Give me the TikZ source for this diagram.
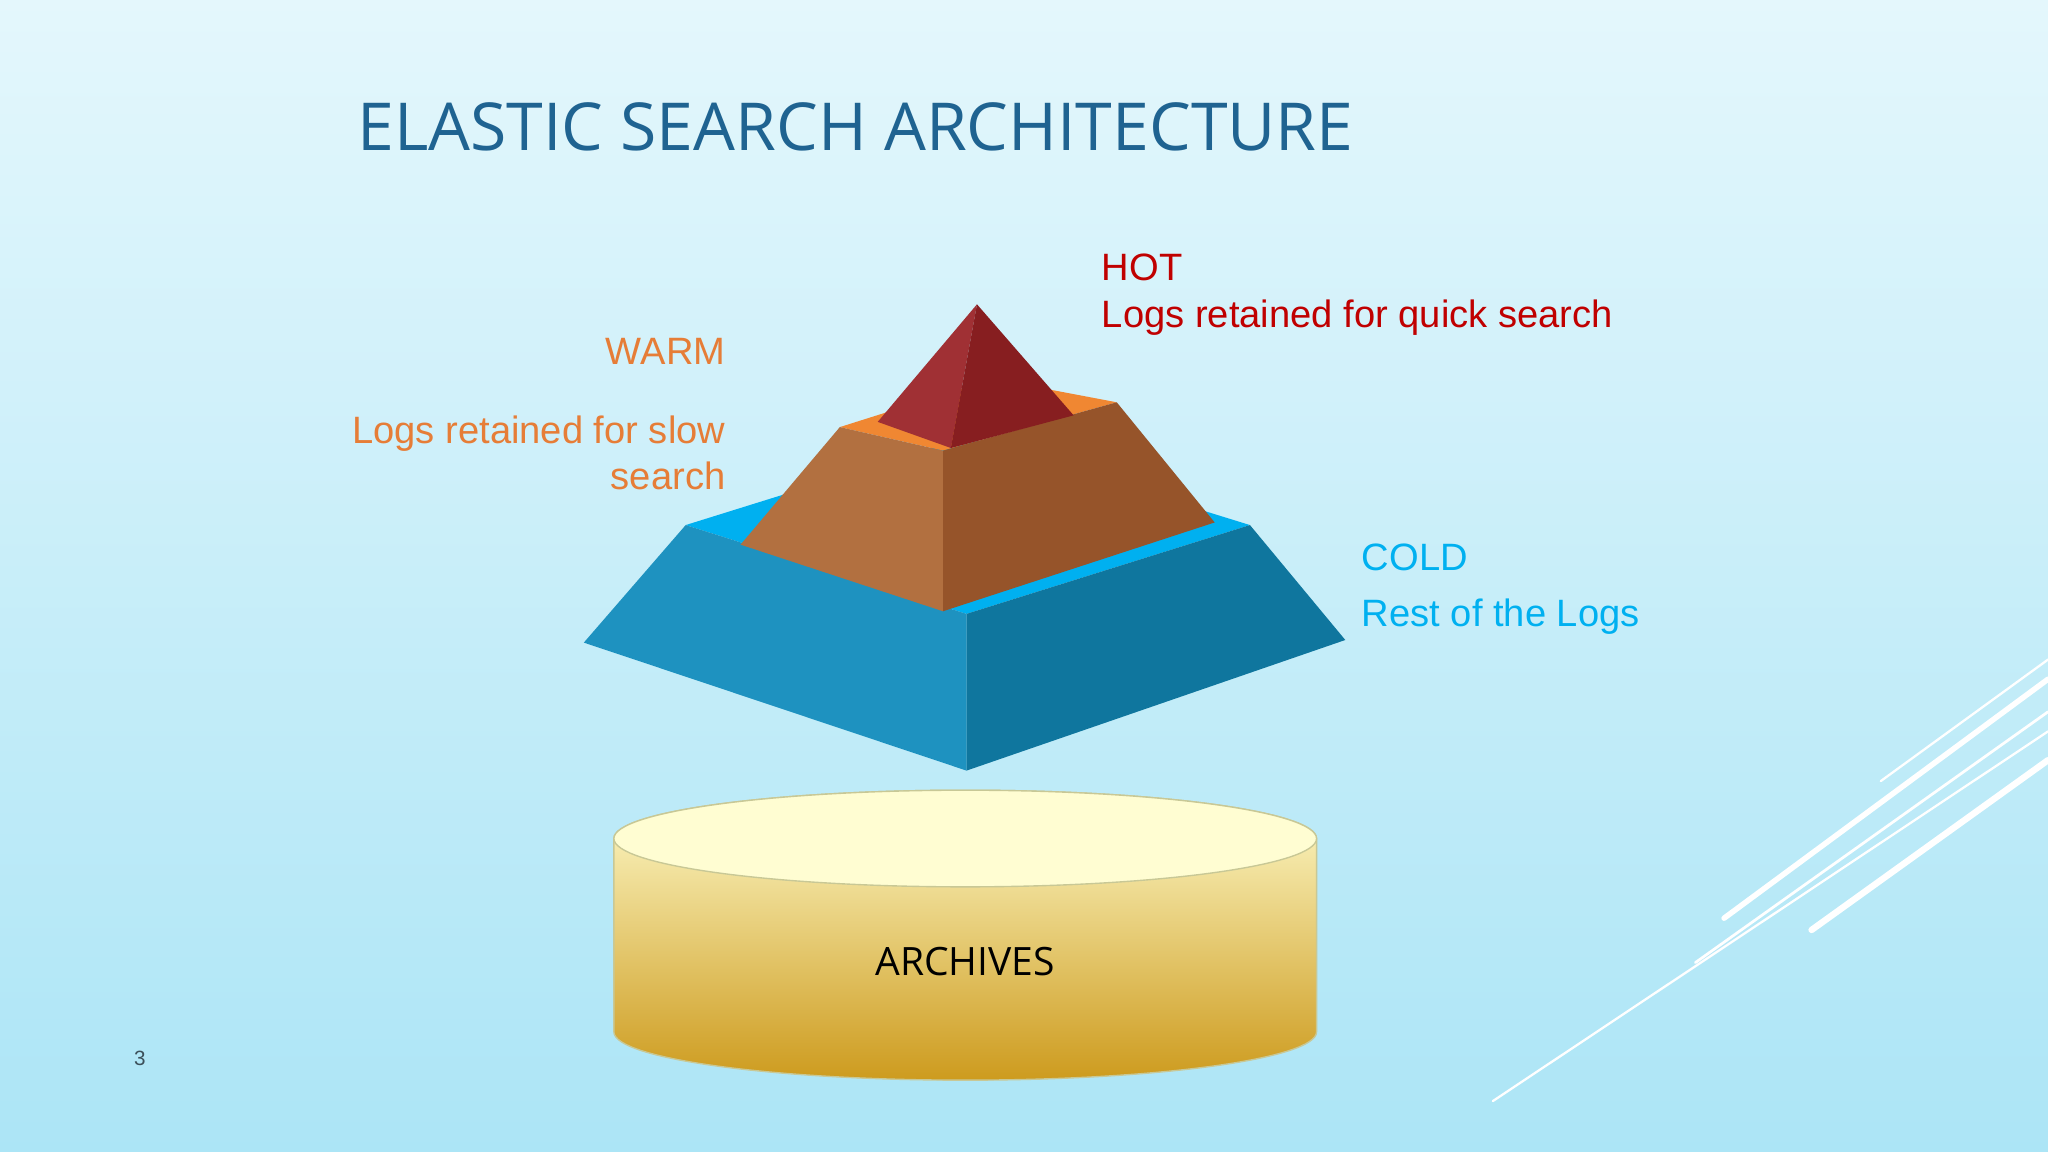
\documentclass[tikz,border=0pt]{standalone}
\usepackage{fontspec}
\setmainfont{Liberation Sans}
\newfontfamily\titlefont{Open Sans}
\definecolor{bgtop}{RGB}{228,247,252}
\definecolor{bgbot}{RGB}{172,229,246}
\definecolor{titlec}{RGB}{31,99,145}
\definecolor{cyltop}{RGB}{255,252,205}
\definecolor{cylmid}{RGB}{238,222,150}
\definecolor{cylbot}{RGB}{205,155,30}
\definecolor{cyledge}{RGB}{200,200,150}
\definecolor{cylcap}{RGB}{255,253,210}
\definecolor{coldtop}{RGB}{0,176,240}
\definecolor{coldl}{RGB}{30,146,192}
\definecolor{coldr}{RGB}{15,118,158}
\definecolor{warmtop}{RGB}{240,135,50}
\definecolor{warml}{RGB}{178,112,64}
\definecolor{warmr}{RGB}{150,84,42}
\definecolor{hotl}{RGB}{160,48,52}
\definecolor{hotr}{RGB}{135,30,32}
\definecolor{hotc}{RGB}{192,0,0}
\definecolor{warmc}{RGB}{230,125,55}
\definecolor{pgc}{RGB}{60,80,90}
\begin{document}
\begin{tikzpicture}[x=0.01cm,y=-0.01cm,
  lbl/.style={font=\fontsize{8.3}{10.2}\selectfont,inner sep=0pt},
  deco/.style={white,line cap=round}]
\shade[top color=bgtop,bottom color=bgbot] (0,0) rectangle (1568,882);
\useasboundingbox (0,0) rectangle (1568,882);
% deco lines
\draw[deco,line width=1.2pt] (1320,703) -- (1568,520);
\draw[deco,line width=0.6pt] (1298,737) -- (1568,545);
\draw[deco,line width=1.4pt] (1387,712) -- (1568,582);
\draw[deco,line width=0.5pt] (1440,598) -- (1568,505);
\draw[deco,line width=0.5pt] (1143,843) -- (1568,560);
% title
\node[anchor=west,inner sep=0pt,text=titlec,font=\titlefont\fontsize{14.4}{16}\selectfont] (title) at (273,97) {ELASTIC SEARCH ARCHITECTURE};
% cylinder
\shade[top color=cyltop,middle color=cylmid,bottom color=cylbot,draw=cyledge,line width=0.3pt]
 (470,642) -- (470,790) arc[start angle=180,end angle=0,x radius=269,y radius=37] -- (1008,642) arc[start angle=0,end angle=-180,x radius=269,y radius=37] -- cycle;
\fill[fill=cylcap,draw=cyledge,line width=0.3pt] (739,642) ellipse[x radius=269,y radius=37];
\node[lbl,font=\titlefont\fontsize{8.5}{10}\selectfont] (arch) at (739,736) {ARCHIVES};
% cold layer
\fill[coldtop] (525,402) -- (740,335) -- (957,402) -- (740,470) -- cycle;
\fill[coldl] (447,492) -- (525,402) -- (740,470) -- (740,590) -- cycle;
\fill[coldr] (740,470) -- (957,402) -- (1030,490) -- (740,590) -- cycle;
% warm layer
\fill[warmtop] (643,327) -- (760,290) -- (855,308) -- (722,345) -- cycle;
\fill[warml] (567,417) -- (643,327) -- (722,345) -- (722,468) -- cycle;
\fill[warmr] (722,345) -- (855,308) -- (930,400) -- (722,468) -- cycle;
% hot
\fill[hotl] (672,323) -- (748,233) -- (728,343) -- cycle;
\fill[hotr] (728,343) -- (748,233) -- (822,318) -- cycle;
% labels
\node[lbl,anchor=north west,align=left,text=hotc] (hot) at (843,194) {HOT\\Logs retained for quick search};
\node[lbl,anchor=north east,align=right,text=warmc] (warm) at (556,258) {WARM\\[7pt]Logs retained for slow\\search};
\node[lbl,anchor=north west,align=left,text=coldtop] (cold) at (1042,416) {COLD\\[2pt]Rest of the Logs};
\node[inner sep=0pt,font=\fontsize{4.5}{5}\selectfont,text=pgc] (pg) at (107,810) {3};
\end{tikzpicture}
\end{document}
